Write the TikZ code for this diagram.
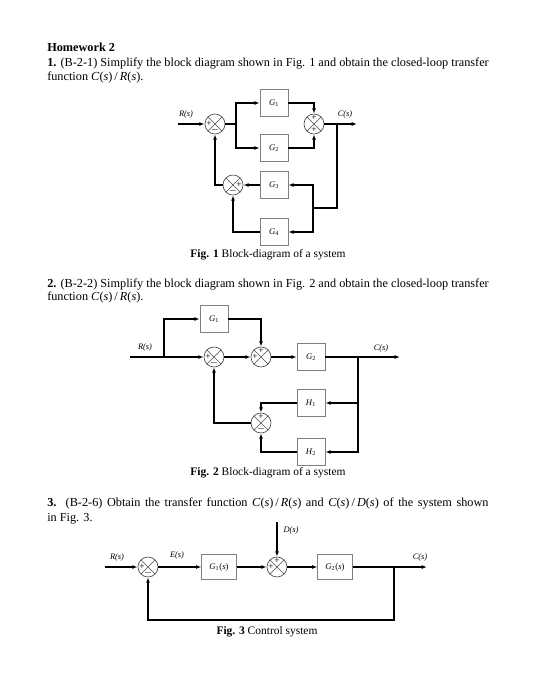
\documentclass[tikz,border=0pt]{standalone}
\usepackage{fontspec}
\setmainfont{Liberation Serif}
\usetikzlibrary{arrows.meta}
\def\tfn#1{\textit{#1}(\textit{s})}
\def\ratio#1#2{\tfn{#1}\,/\,\tfn{#2}}

\begin{document}
\begin{tikzpicture}[x=0.75pt,y=0.75pt,yscale=-1,
	sig/.style={line width=1.1pt,-{Latex[length=4pt,width=3pt]}},
	wire/.style={line width=1.1pt},
	blk/.style={draw=gray,line width=0.5pt,minimum width=21pt,minimum height=20pt,inner sep=0pt,font=\fontsize{6.5}{7}\selectfont},
	wblk/.style={blk,minimum width=26pt,minimum height=19pt},
	sumj/.style={circle,draw=black!70,line width=0.5pt,minimum size=15pt,inner sep=0pt,
		path picture={\draw[black!70,line width=0.5pt] (path picture bounding box.south east) -- (path picture bounding box.north west) (path picture bounding box.south west) -- (path picture bounding box.north east);}},
	sgn/.style={inner sep=0pt,font=\fontsize{7}{7}\selectfont},
	lbl/.style={inner sep=0.75pt,font=\fontsize{6.3}{7}\selectfont\itshape},
	txt/.style={anchor=base west,inner sep=0pt,font=\fontsize{9.2}{11}\selectfont},
	figcap/.style={anchor=base,inner sep=0pt,font=\fontsize{8.6}{10}\selectfont}]
		\fill[white] (0,0) rectangle (542,700);
		\useasboundingbox (0,0) rectangle (542,700);
		% text
		\node[txt] (hw) at (47,51) {\textbf{Homework 2}};
		\node[txt] (q1a) at (47,66) {\textbf{1.} (B-2-1) Simplify the block diagram shown in Fig. 1 and obtain the closed-loop transfer};
		\node[txt] (q1b) at (47,80) {function \ratio{C}{R}.};
		\node[txt] (q2a) at (47,287) {\textbf{2.} (B-2-2) Simplify the block diagram shown in Fig. 2 and obtain the closed-loop transfer};
		\node[txt] (q2b) at (47,300) {function \ratio{C}{R}.};
		\node[txt] (q3a) at (47,506) {\makebox[331pt][s]{\textbf{3.}\ \ (B-2-6) Obtain the transfer function \ratio{C}{R} and \ratio{C}{D} of the system shown}};
		\node[txt] (q3b) at (47,521) {in Fig. 3.};
		% Fig. 1 (yshift is flipped by yscale=-1: negative = up)
		\node[sumj] (a1) at (215,124) {};
		\node[sumj] (a2) at (314,124) {};
		\node[sumj] (a3) at (233,185) {};
		\node[blk] (g1) at (274,103) {\textit{G}\textsubscript{1}};
		\node[blk] (g2) at (274,148) {\textit{G}\textsubscript{2}};
		\node[blk] (g3) at (274,185) {\textit{G}\textsubscript{3}};
		\node[blk] (g4) at (274,232) {\textit{G}\textsubscript{4}};
		\coordinate (r1) at (178,124);
		\coordinate (c1) at (357,124);
		\coordinate (b1) at (236,124);
		\coordinate (b2) at (337,124);
		\coordinate (b3) at (313,208);
		\draw[sig] (r1) -- (a1);
		\draw[wire] (a1) -- (b1);
		\draw[sig] (b1) |- (g1);
		\draw[sig] (b1) |- (g2);
		\draw[sig] (g1) -| (a2);
		\draw[sig] (g2) -| (a2);
		\draw[sig] (a2) -- (c1);
		\draw[wire] (b2) |- (b3);
		\draw[sig] (b3) |- (g3);
		\draw[sig] (b3) |- (g4);
		\draw[sig] (g3) -- (a3);
		\draw[sig] (g4) -| (a3);
		\draw[sig] (a3) -| (a1);
		\node[sgn] at ([xshift=-4.5pt]a1.center) {+};
		\node[sgn] at ([yshift=4.5pt]a1.center) {$-$};
		\node[sgn] at ([yshift=-4.5pt]a2.center) {+};
		\node[sgn] at ([yshift=4.5pt]a2.center) {+};
		\node[sgn] at ([xshift=4.5pt]a3.center) {+};
		\node[sgn] at ([yshift=4.5pt]a3.center) {$-$};
		\node[lbl] at (186,114) {R(s)};
		\node[lbl] at (345,114) {C(s)};
		\node[figcap] (f1) at (268,257) {\textbf{Fig. 1} Block-diagram of a system};
		% Fig. 2
		\node[blk] (h0) at (214,319) {\textit{G}\textsubscript{1}};
		\node[sumj] (s1) at (214,357) {};
		\node[sumj] (s2) at (261,357) {};
		\node[sumj] (s3) at (261,423) {};
		\node[blk] (h2) at (311,357) {\textit{G}\textsubscript{2}};
		\node[blk] (k1) at (311,403) {\textit{H}\textsubscript{1}};
		\node[blk] (k2) at (311,452) {\textit{H}\textsubscript{2}};
		\coordinate (r2) at (130,357);
		\coordinate (b4) at (164,357);
		\coordinate (b5) at (358,357);
		\coordinate (c2) at (400,357);
		\draw[wire] (r2) -- (b4);
		\draw[sig] (b4) -- (s1);
		\draw[sig] (b4) |- (h0);
		\draw[sig] (h0) -| (s2);
		\draw[sig] (s1) -- (s2);
		\draw[sig] (s2) -- (h2);
		\draw[sig] (h2) -- (c2);
		\draw[sig] (b5) |- (k1);
		\draw[sig] (b5) |- (k2);
		\draw[sig] (k1) -| (s3);
		\draw[sig] (k2) -| (s3);
		\draw[sig] (s3) -| (s1);
		\node[sgn] at ([xshift=-4.5pt]s1.center) {+};
		\node[sgn] at ([yshift=4.5pt]s1.center) {$-$};
		\node[sgn] at ([xshift=-4.5pt]s2.center) {+};
		\node[sgn] at ([yshift=-4.5pt]s2.center) {+};
		\node[sgn] at ([yshift=-4.5pt]s3.center) {+};
		\node[sgn] at ([yshift=4.5pt]s3.center) {$-$};
		\node[lbl] at (145,347) {R(s)};
		\node[lbl] at (381,348) {C(s)};
		\node[figcap] (f2) at (268,475) {\textbf{Fig. 2} Block-diagram of a system};
		% Fig. 3
		\node[sumj] (e1) at (148,567) {};
		\node[wblk] (q1) at (219,567) {\textit{G}\textsubscript{1}(\textit{s})};
		\node[sumj] (e2) at (277,567) {};
		\node[wblk] (q2) at (335,567) {\textit{G}\textsubscript{2}(\textit{s})};
		\coordinate (r3) at (105,567);
		\coordinate (d3) at (277,522);
		\coordinate (c3) at (427,567);
		\coordinate (b7) at (394,567);
		\coordinate (b8) at (394,620);
		\draw[sig] (r3) -- (e1);
		\draw[sig] (e1) -- (q1);
		\draw[sig] (q1) -- (e2);
		\draw[sig] (d3) -- (e2);
		\draw[sig] (e2) -- (q2);
		\draw[sig] (q2) -- (c3);
		\draw[sig] (b7) -- (b8) -| (e1);
		\node[sgn] at ([xshift=-4.5pt]e1.center) {+};
		\node[sgn] at ([yshift=4.5pt]e1.center) {$-$};
		\node[sgn] at ([xshift=-4.5pt]e2.center) {+};
		\node[sgn] at ([yshift=-4.5pt]e2.center) {+};
		\node[lbl] at (117,557) {R(s)};
		\node[lbl] at (177,555) {E(s)};
		\node[lbl] at (291,530) {D(s)};
		\node[lbl] at (420,557) {C(s)};
		\node[figcap] (f3) at (267,634) {\textbf{Fig. 3} Control system};
	\end{tikzpicture}
\end{document}
